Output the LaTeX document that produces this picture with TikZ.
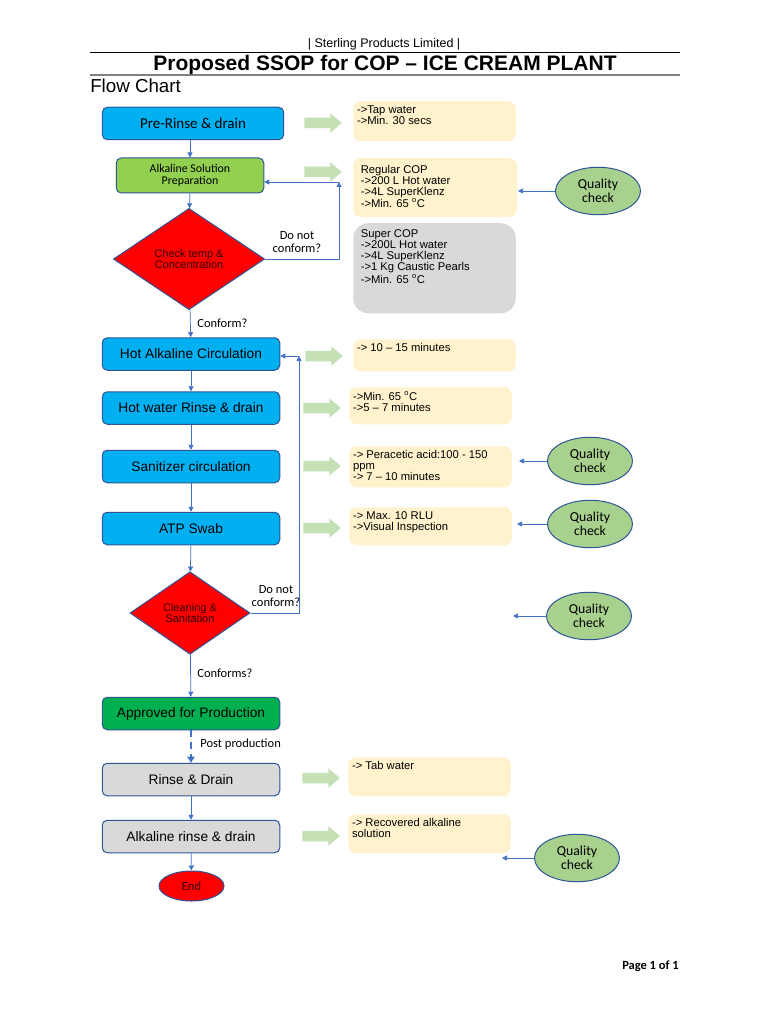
\documentclass[tikz,border=0pt]{standalone}
\usepackage{fontspec}
\setmainfont{Liberation Sans}
\newfontfamily\carlito{Carlito}
\usepackage{tikz}
\usetikzlibrary{arrows.meta, positioning, calc, shapes.geometric, shapes.arrows}

\definecolor{stepblue}{HTML}{00B0F0}
\definecolor{stepstroke}{HTML}{2F5597}
\definecolor{prepgreen}{HTML}{92D050}
\definecolor{passgreen}{HTML}{00B050}
\definecolor{postgrey}{HTML}{D9D9D9}
\definecolor{checkred}{HTML}{FF0000}
\definecolor{checkink}{HTML}{300000}
\definecolor{notecream}{HTML}{FFF2CC}
\definecolor{qualgreen}{HTML}{A9D18E}
\definecolor{linkblue}{HTML}{4472C4}
\definecolor{pushgreen}{HTML}{C5E0B4}
\definecolor{rulegrey}{HTML}{808080}

\newcommand{\notebody}[3][124pt]{\parbox[t][#2][t]{#1}{#3}}

\begin{document}
\begin{tikzpicture}[x=0.8pt, y=-0.8pt, >=Stealth,
  stepbox/.style={draw=stepstroke, line width=0.8pt, rounded corners=4pt, fill=stepblue,
    minimum width=142pt, minimum height=26pt, inner sep=0pt, align=center,
    font=\fontsize{11}{12}\selectfont},
  decision/.style={diamond, draw=stepstroke, line width=0.8pt, fill=checkred, inner sep=0pt,
    align=center, text=checkink, font=\fontsize{8.8}{8.6}\selectfont},
  notebox/.style={fill=notecream, rounded corners=6pt, anchor=north west,
    inner xsep=3pt, inner ysep=3.5pt, font=\fontsize{9}{8.8}\selectfont},
  qualcheck/.style={ellipse, draw=stepstroke, line width=0.8pt, fill=qualgreen,
    minimum width=68pt, minimum height=38pt, inner sep=0pt, align=center,
    font=\carlito\fontsize{11}{11}\selectfont},
  pushgo/.style={single arrow, fill=pushgreen, minimum height=30pt,
    inner sep=4pt, single arrow head extend=3.5pt, single arrow tip angle=80},
  link/.style={draw=linkblue, line width=0.6pt, -{Triangle[length=4pt, width=4pt]}},
  tag/.style={font=\carlito\fontsize{10}{10.7}\selectfont, align=center}
]
  \fill[white] (0,0) rectangle (768,1024);
  \useasboundingbox (0,0) rectangle (768,1024);

  % Header
  \node[font=\fontsize{10}{12}\selectfont] (firm) at (384,44) {| Sterling Products Limited |};
  \draw[line width=0.6pt] (90,52) -- (680,52);
  \node[anchor=base, inner sep=0pt, font=\bfseries\fontsize{16.8}{20}\selectfont] (title) at (385,70.5) {Proposed SSOP for COP -- ICE CREAM PLANT};
  \draw[rulegrey, line width=1.6pt] (90,75) -- (680,75);
  \node[anchor=west, inner sep=0pt, font=\fontsize{15}{18}\selectfont] (subtitle) at (90,86) {Flow Chart};

  % Cleaning sequence
  \node[stepbox, minimum width=145pt, font=\carlito\fontsize{12}{12}\selectfont] (prerinse) at (193,123.5) {Pre-Rinse \& drain};
  \node[stepbox, fill=prepgreen, minimum width=118pt, minimum height=28pt, font=\carlito\fontsize{9.5}{9.6}\selectfont] (alkprep) at (190,175.5) {Alkaline Solution\\Preparation};
  \node[decision, minimum width=121pt, minimum height=81pt] (tempcheck) at (189,259) {Check temp \&\\Concentration};
  \node[stepbox] (hotalk) at (191,354) {Hot Alkaline Circulation};
  \node[stepbox] (hotrinse) at (191,408) {Hot water Rinse \& drain};
  \node[stepbox] (sanitize) at (191,466.5) {Sanitizer circulation};
  \node[stepbox] (atpswab) at (191,528.5) {ATP Swab};
  \node[decision, minimum width=96pt, minimum height=66pt] (sanicheck) at (190,613) {Cleaning \&\\Sanitation};
  \node[stepbox, fill=passgreen] (approved) at (191,713.5) {Approved for Production};
  \node[stepbox, fill=postgrey] (rinse) at (191,779.5) {Rinse \& Drain};
  \node[stepbox, fill=postgrey] (alkrinse) at (191,836.5) {Alkaline rinse \& drain};
  \node[ellipse, draw=stepstroke, line width=0.8pt, fill=checkred, minimum width=52pt, minimum height=24pt,
    inner sep=0pt, text=checkink, font=\carlito\fontsize{10}{10}\selectfont] (finish) at (191.5,886) {End};

  % Links
  \draw[link] (alkprep.north |- prerinse.south) -- (alkprep.north);
  \draw[link] (alkprep) -- (tempcheck);
  \draw[link] (tempcheck) -- (hotalk);
  \draw[link] (hotalk) -- (hotrinse);
  \draw[link] (hotrinse) -- (sanitize);
  \draw[link] (sanitize) -- (atpswab);
  \draw[link] (atpswab) -- (sanicheck);
  \draw[link] (sanicheck) -- (approved);
  \draw[link, line width=1.8pt, dash pattern=on 5.5pt off 4pt, -{Triangle[length=5pt, width=6pt]}] (approved) -- (rinse);
  \draw[link] (rinse) -- (alkrinse);
  \draw[link] (alkrinse) -- (finish);
  \node[tag, anchor=west] (pass1) at (193,323) {Conform?};
  \node[tag, anchor=west] (pass2) at (193,673) {Conforms?};
  \node[tag, anchor=west] (postprod) at (196,744) {Post production};

  % Loops back
  \coordinate (backprep) at (339,182);
  \draw[link] (tempcheck.east) -| (backprep);
  \draw[link] (backprep) -- (backprep -| alkprep.east);
  \node[tag] (redo1) at (297,242) {Do not\\conform?};
  \coordinate (backalk) at (299,356);
  \draw[link] (sanicheck.east) -| (backalk);
  \draw[link] (backalk) -- (backalk -| hotalk.east);
  \node[tag] (redo2) at (276,596) {Do not\\conform?};

  % Notes
  \foreach \n/\x/\y in {1/320/123, 2/320/172, 3/321/356, 4/319/408, 5/319/466, 6/319/528, 7/318/778, 8/318/836}
    \node[pushgo] (push\n) at (\x,\y) {};
  \node[notebox] (tapnote) at (353,101) {\notebody{25pt}{->Tap water\\->Min. 30 secs}};
  \node[notebox, inner xsep=6pt, inner ysep=5.5pt] (regnote) at (353,158) {\notebody[119pt]{36pt}{Regular COP\\->200 L Hot water\\->4L SuperKlenz\\->Min. 65 \textsuperscript{o}C}};
  \node[notebox, fill=postgrey, rounded corners=12pt, inner xsep=6pt, inner ysep=5.5pt] (supernote) at (353,223) {\notebody[118pt]{61pt}{Super COP\\->200L Hot water\\->4L SuperKlenz\\->1 Kg Caustic Pearls\\->Min. 65 \textsuperscript{o}C}};
  \node[notebox] (circnote) at (353,339) {\notebody{18.6pt}{-> 10 -- 15 minutes}};
  \node[notebox] (hotnote) at (349,387) {\notebody{22.6pt}{->Min. 65 \textsuperscript{o}C\\->5 -- 7 minutes}};
  \node[notebox] (sanitnote) at (349,446) {\notebody{25.8pt}{-> Peracetic acid:100 - 150\\ppm\\-> 7 -- 10 minutes}};
  \node[notebox] (swabnote) at (349,507) {\notebody{23.4pt}{-> Max. 10 RLU\\->Visual Inspection}};
  \node[notebox] (rinsenote) at (348,757) {\notebody{24.2pt}{-> Tab water}};
  \node[notebox] (alknote) at (348,814) {\notebody{24.2pt}{-> Recovered alkaline\\solution}};

  % Quality checks
  \foreach \n/\x/\y/\tip in {1/598/191/518, 2/590/461/519, 3/590/524/517, 4/589/616/513, 5/577/858/502} {
    \node[qualcheck] (qual\n) at (\x,\y) {Quality\\check};
    \coordinate (qtip\n) at (\tip,\y);
    \draw[link] (qual\n) -- (qtip\n);
  }

  % Footer
  \node[anchor=west, inner sep=0pt, font=\carlito\bfseries\fontsize{10}{12}\selectfont] (pageno) at (622,966) {Page 1 of 1};
\end{tikzpicture}
\end{document}
